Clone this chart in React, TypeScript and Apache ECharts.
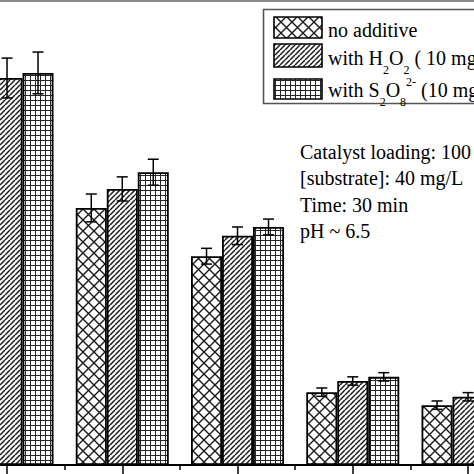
import React, { useEffect, useRef } from "react";
import * as echarts from "echarts";

const categories = ["1", "2", "3", "4", "5"];
const noAdditive = [80.0, 55.4, 45.0, 15.7, 12.9];
const withH2O2 = [83.4, 59.5, 49.4, 18.1, 14.7];
const withS2O8 = [84.5, 63.1, 51.3, 19.0, 16.2];
const errNoAdditive = [4.4, 3.0, 1.7, 0.9, 0.9];
const errH2O2 = [4.3, 2.6, 1.9, 0.9, 0.9];
const errS2O8 = [4.5, 2.8, 1.7, 0.9, 0.9];

const legendNames = ["no additive", "with H2O2 ( 10 mg", "with S2O8 2- (10 mg"];
const infoLines = ["Catalyst loading: 100", "[substrate]: 40 mg/L", "Time: 30 min", "pH ~ 6.5"];

const OX = 60;
const W = 660;
const H = 474;

function makePattern(kind: string) {
  const size = kind === "cross" ? 11 : kind === "diag" ? 5 : 5;
  const c = document.createElement("canvas");
  c.width = size;
  c.height = size;
  const ctx = c.getContext("2d")!;
  ctx.fillStyle = "#fff";
  ctx.fillRect(0, 0, size, size);
  ctx.strokeStyle = "#1a1a1a";
  if (kind === "cross") {
    ctx.lineWidth = 1.4;
    for (const dx of [-size, 0, size]) {
      ctx.beginPath();
      ctx.moveTo(dx, 0);
      ctx.lineTo(dx + size, size);
      ctx.moveTo(dx + size, 0);
      ctx.lineTo(dx, size);
      ctx.stroke();
    }
  } else if (kind === "diag") {
    ctx.lineWidth = 1.5;
    for (const dx of [-size, 0, size]) {
      ctx.beginPath();
      ctx.moveTo(dx, size);
      ctx.lineTo(dx + size, 0);
      ctx.stroke();
    }
  } else {
    ctx.strokeStyle = "#262626";
    ctx.lineWidth = 1;
    ctx.beginPath();
    ctx.moveTo(0.5, 0);
    ctx.lineTo(0.5, size);
    ctx.moveTo(0, 0.5);
    ctx.lineTo(size, 0.5);
    ctx.stroke();
  }
  return { image: c.toDataURL(), repeat: "repeat", imageWidth: size, imageHeight: size };
}

export default function App() {
  const ref = useRef<HTMLDivElement>(null);
  useEffect(() => {
    document.body.style.margin = "0";
    document.body.style.overflow = "hidden";
    const chart = echarts.init(ref.current!, null, { renderer: "svg", width: W, height: H });
    const pats = [makePattern("cross"), makePattern("diag"), makePattern("grid")];
    const values = [noAdditive, withH2O2, withS2O8];
    const errs = [errNoAdditive, errH2O2, errS2O8];
    const barW = 31;
    const font = "Liberation Serif";

    const barSeries = values.map((v, k) => ({
      type: "bar",
      name: legendNames[k],
      data: v,
      barWidth: barW,
      barGap: "0%",
      itemStyle: { color: pats[k], borderColor: "#000", borderWidth: 1.8 },
      z: 2,
    }));

    const errSeries = errs.map((e, k) => ({
      type: "custom",
      xAxisIndex: 0,
      yAxisIndex: 0,
      z: 5,
      data: e.map((d, i) => [i, values[k][i] - d, values[k][i] + d]),
      renderItem: (params: any, api: any) => {
        const cat = api.value(0);
        const lo = api.coord([cat, api.value(1)]);
        const hi = api.coord([cat, api.value(2)]);
        const x = lo[0] + (k - 1) * barW;
        const cw = 5.5;
        const st = { stroke: "#000", lineWidth: 1.5 };
        return {
          type: "group",
          children: [
            { type: "line", shape: { x1: x, y1: lo[1], x2: x, y2: hi[1] }, style: st },
            { type: "line", shape: { x1: x - cw, y1: hi[1], x2: x + cw, y2: hi[1] }, style: st },
            { type: "line", shape: { x1: x - cw, y1: lo[1], x2: x + cw, y2: lo[1] }, style: st },
          ],
        };
      },
    }));

    const txt = { fill: "#000", fontSize: 20, fontFamily: font };
    const rich = {
      sub: { fontSize: 12, fontFamily: font, padding: [25, 0, 0, 0] },
      sup: { fontSize: 12, fontFamily: font, padding: [0, 0, 15, 0] },
    };
    const swatches = [
      { y: 17, h: 21 },
      { y: 44, h: 23 },
      { y: 79, h: 20 },
    ];
    const legendTexts = [
      "no additive",
      "with H{sub|2}O{sub|2} ( 10 mg",
      "with S{sub|2}O{sub|8}{sup|2-} (10 mg",
    ];
    const legendY = [29.5, 57.5, 89.5];
    const infoY = [151.5, 178, 204.5, 231];

    const graphic: any[] = [
      { type: "rect", shape: { x: 0, y: 0, width: W, height: 2 }, style: { fill: "#8c8c8c" }, z: 10 },
      {
        type: "rect",
        shape: { x: 263.5 + OX, y: 9.5, width: 300, height: 94 },
        style: { fill: "#fff", stroke: "#555", lineWidth: 1.6 },
        z: 10,
      },
    ];
    swatches.forEach((s, k) => {
      graphic.push({
        type: "rect",
        shape: { x: 274 + OX, y: s.y, width: 48, height: s.h },
        style: { fill: pats[k], stroke: "#000", lineWidth: 1.6 },
        z: 11,
      });
      graphic.push({
        type: "text",
        x: 328 + OX,
        y: legendY[k],
        style: { ...txt, text: legendTexts[k], rich, verticalAlign: "middle", align: "left" },
        z: 11,
      });
    });
    infoLines.forEach((t, i) => {
      graphic.push({
        type: "text",
        x: 300 + OX,
        y: infoY[i],
        style: { ...txt, text: t, verticalAlign: "middle", align: "left" },
        z: 11,
      });
    });

    chart.setOption({
      animation: false,
      grid: { left: OX - 50.6, width: 576.25, top: 1, bottom: H - 465 },
      xAxis: [
        {
          type: "category",
          data: categories,
          position: "bottom",
          axisLine: { show: true, lineStyle: { color: "#000", width: 2 } },
          axisTick: { show: true, length: 5, lineStyle: { color: "#000", width: 1.5 } },
          axisLabel: { show: false },
        },
        {
          type: "category",
          data: categories,
          position: "bottom",
          axisLine: { show: false },
          axisTick: { show: true, alignWithLabel: true, length: 12, lineStyle: { color: "#000", width: 1.5 } },
          axisLabel: { show: false },
        },
      ],
      yAxis: { type: "value", min: 0, max: 100, show: false, splitLine: { show: false } },
      series: [...barSeries, ...errSeries],
      graphic,
    });
    return () => chart.dispose();
  }, []);
  return (
    <div style={{ position: "fixed", left: 0, top: 0, width: 474, height: 474, overflow: "hidden", background: "#fff" }}>
      <div ref={ref} style={{ position: "absolute", left: -OX, top: 0, width: W, height: H }} />
    </div>
  );
}
